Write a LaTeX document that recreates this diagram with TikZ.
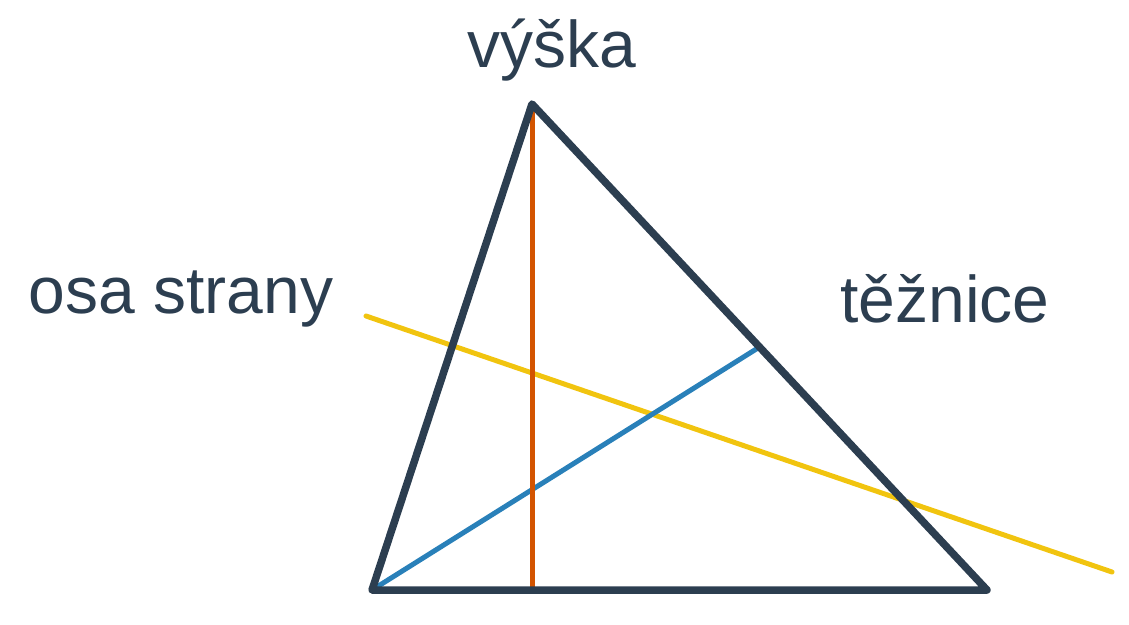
\documentclass[tikz,border=0pt]{standalone}
\usepackage{fontspec}
\setmainfont{Liberation Sans}
\usetikzlibrary{calc}
\definecolor{slate}{HTML}{2C3E50}
\definecolor{pumpkin}{HTML}{D35400}
\definecolor{belize}{HTML}{2980B9}
\definecolor{sunflower}{HTML}{F1C40F}

\begin{document}
\begin{tikzpicture}[x=1pt,y=-1pt,line cap=round,line join=round,
                    side/.style={draw=slate,line width=7.5pt},
                    special line/.style={line width=5pt},
                    label text/.style={text=slate,anchor=base,inner sep=0pt,
                                       font=\fontsize{66}{79}\selectfont}]
  \useasboundingbox (0,0) rectangle (1129,624);
  \coordinate (A) at (372,590);
  \coordinate (B) at (987,590);
  \coordinate (C) at (532,104);
  \coordinate (foot) at (532,590);
  \coordinate (mid) at ($(B)!0.5!(C)$);
  \coordinate (osa1) at (366,316);
  \coordinate (osa2) at (1112,572);
  \draw[special line,draw=sunflower] (osa1) -- (osa2);
  \draw[special line,draw=belize] (A) -- (mid);
  \draw[special line,draw=pumpkin] (C) -- (foot);
  \draw[side] (A) -- (B) -- (C) -- cycle;
  \node[label text] (vyska) at (552,67) {výška};
  \node[label text] (osa) at (181,313) {osa strany};
  \node[label text] (teznice) at (945,322) {těžnice};
\end{tikzpicture}
\end{document}
